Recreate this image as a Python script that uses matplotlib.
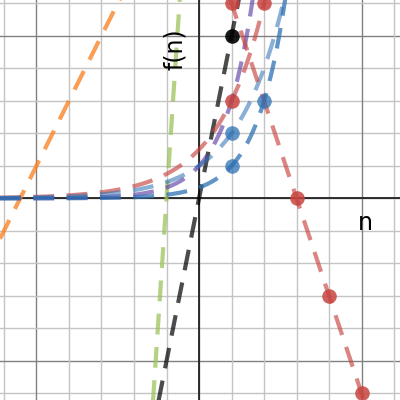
import numpy as np
import matplotlib
matplotlib.use("Agg")
import matplotlib.pyplot as plt

# point data
blue_x = [1, 1, 2]; blue_y = [1, 2, 3]
red_x = [1, 2, 1, 3, 4, 5]; red_y = [3, 6, 6, 0, -3, -6]
black_x = [1]; black_y = [5]

fig = plt.figure(figsize=(4, 4), dpi=100)
ax = fig.add_axes([0, 0, 1, 1])
xmin, xmax, ymin, ymax = -6.12, 6.18, -6.2, 6.1
ax.set_xlim(xmin, xmax); ax.set_ylim(ymin, ymax)
for v in range(-6, 7):
    c = '#808080' if v % 5 == 0 else '#c4c4c4'
    ax.axvline(v, color=c, lw=1, zorder=0)
    ax.axhline(v, color=c, lw=1, zorder=0)
ax.axhline(0, color='#222', lw=1.3, zorder=1)
ax.axvline(0, color='#222', lw=1.3, zorder=1)
ax.set_xticks([]); ax.set_yticks([])
for s in ax.spines.values(): s.set_visible(False)

n = np.linspace(xmin, xmax, 600)
ds = dict(lw=3, ls=(0, (5, 3)), zorder=3)
ax.plot(n, 2*n + 11, color='#fa7e19', alpha=0.75, **ds)
ax.plot(n, 15*(n + 1), color='#9dc25a', alpha=0.75, **ds)
ax.plot(n, 5*n, color='#000', alpha=0.7, **ds)
ax.plot(n, 1.5*2**n, color='#c74440', alpha=0.65, **ds)
ax.plot(n, 3.0**n, color='#6042a6', alpha=0.65, **ds)
ax.plot(n, 2.0**n, color='#2d70b3', alpha=0.55, **ds)
ax.plot(n, 3.0**(n - 1), color='#2d70b3', alpha=0.75, **ds)
ax.plot(n, 9 - 3*n, color='#c74440', alpha=0.65, **ds)

ax.scatter(blue_x, blue_y, s=110, color='#2d70b3', alpha=0.75, zorder=5, lw=0)
ax.scatter(red_x, red_y, s=110, color='#c74440', alpha=0.85, zorder=5, lw=0)
ax.scatter(black_x, black_y, s=110, color='#000', alpha=0.9, zorder=5, lw=0)

ax.text(5.1, -0.75, 'n', fontsize=17, ha='center', va='center')
ax.text(-0.75, 4.6, 'f(n)', fontsize=17, ha='center', va='center', rotation=90)
fig.savefig('out.png', dpi=100)
